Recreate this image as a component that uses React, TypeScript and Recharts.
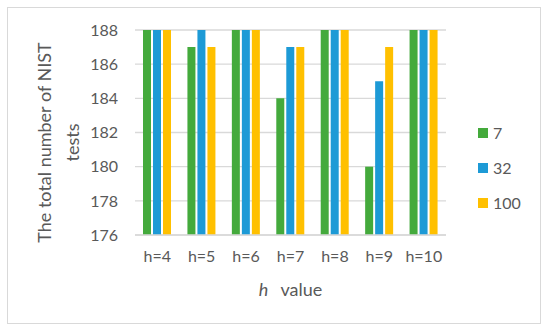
import React from "react";
import { BarChart, Bar, XAxis, YAxis, CartesianGrid, Legend } from "recharts";

const categories = ["h=4", "h=5", "h=6", "h=7", "h=8", "h=9", "h=10"];
const series7 = [188, 187, 188, 184, 188, 180, 188];
const series32 = [188, 188, 188, 187, 188, 185, 188];
const series100 = [188, 187, 188, 187, 188, 187, 188];
const yTicks = [176, 178, 180, 182, 184, 186, 188];
const seriesNames = ["7", "32", "100"];
const colors = ["#44AA3C", "#1D9AD6", "#FFC000"];

const data = categories.map((c, i) => ({
  cat: c,
  s7: series7[i],
  s32: series32[i],
  s100: series100[i],
}));

const FONT = "Lato, 'Open Sans', sans-serif";
const GREY = "#595959";

const YLabel = (props: any) => {
  const vb = props.viewBox || {};
  const cx = 59;
  const cy = vb.y + vb.height / 2 + 10;
  return (
    <text
      transform={`rotate(-90, ${cx}, ${cy})`}
      x={cx}
      y={cy}
      textAnchor="middle"
      fill={GREY}
      fontSize={18}
      fontFamily={FONT}
    >
      <tspan x={cx} dy={-8}>The total number of NIST</tspan>
      <tspan x={cx} dy={28}>tests</tspan>
    </text>
  );
};

const XLabel = (props: any) => {
  const vb = props.viewBox || {};
  const cx = vb.x + vb.width / 2;
  return (
    <text x={cx} y={296} textAnchor="middle" fill={GREY} fontSize={18} fontFamily={FONT}>
      <tspan fontStyle="italic">h</tspan>
      <tspan dx={8}>{" value"}</tspan>
    </text>
  );
};

const LegendContent = () => (
  <div style={{ fontFamily: FONT, fontSize: 16, color: GREY }}>
    {seriesNames.map((n, i) => (
      <div key={n} style={{ display: "flex", alignItems: "center", height: 35 }}>
        <span style={{ display: "inline-block", width: 10, height: 10, background: colors[i], marginRight: 5 }} />
        <span>{n}</span>
      </div>
    ))}
  </div>
);

export default function App() {
  return (
    <div style={{ position: "absolute", left: 0, top: 0, width: 550, height: 334, background: "#fff" }}>
      <div
        style={{
          position: "absolute",
          left: 7,
          top: 7,
          width: 534,
          height: 317,
          border: "1px solid #D9D9D9",
          boxSizing: "border-box",
        }}
      />
      <BarChart
        width={550}
        height={334}
        data={data}
        margin={{ top: 30, right: 104, bottom: 0, left: 0 }}
        barSize={8}
        barGap={2}
      >
        <CartesianGrid vertical={false} stroke="#D9D9D9" strokeWidth={1.3} />
        <XAxis
          dataKey="cat"
          height={99}
          tickSize={0}
          tickMargin={16}
          axisLine={{ stroke: "#D9D9D9", strokeWidth: 1.3 }}
          tickLine={false}
          tick={{ fill: GREY, fontSize: 16, fontFamily: FONT }}
          interval={0}
          label={<XLabel />}
        />
        <YAxis
          width={135}
          domain={[176, 188]}
          ticks={yTicks}
          interval={0}
          tickSize={0}
          tickMargin={17}
          axisLine={false}
          tickLine={false}
          tick={{ fill: GREY, fontSize: 16, fontFamily: FONT }}
          label={<YLabel />}
        />
        <Legend
          layout="vertical"
          align="center"
          verticalAlign="middle"
          content={<LegendContent />}
          wrapperStyle={{ left: 478, top: 115, width: 60 }}
        />
        <Bar dataKey="s7" name={seriesNames[0]} fill={colors[0]} isAnimationActive={false} />
        <Bar dataKey="s32" name={seriesNames[1]} fill={colors[1]} isAnimationActive={false} />
        <Bar dataKey="s100" name={seriesNames[2]} fill={colors[2]} isAnimationActive={false} />
      </BarChart>
    </div>
  );
}
